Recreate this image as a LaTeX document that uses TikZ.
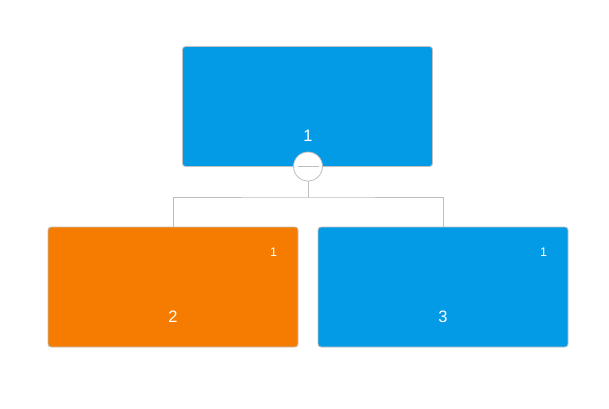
\documentclass[tikz,border=0pt]{standalone}
\usepackage{fontspec}
\setmainfont{Liberation Sans}
\usetikzlibrary{calc}
\definecolor{boxblue}{HTML}{039BE5}
\definecolor{boxorange}{HTML}{F57C00}
\definecolor{edgegray}{HTML}{C0C0C0}
\definecolor{linegray}{HTML}{BDBDBD}
\begin{document}
\begin{tikzpicture}[x=1pt,y=-1pt,
  card/.style={draw=edgegray,line width=0.8pt,rounded corners=3pt,minimum width=250pt,minimum height=120pt,inner sep=0pt},
  lbl/.style={text=white,font=\fontsize{16.5}{18}\selectfont,inner sep=0pt},
  cnt/.style={text=white,font=\fontsize{12.5}{14}\selectfont,inner sep=0pt},
  conn/.style={draw=linegray,line width=0.9pt}]
\useasboundingbox (0,0) rectangle (609,408);
\node[card,fill=boxblue] (n1) at (307.5,106.5) {};
\node[card,fill=boxorange] (n2) at (173,287) {};
\node[card,fill=boxblue] (n3) at (443,287) {};
\node[lbl] (t1) at (308,136) {1};
\node[lbl] (t2) at (173,316.5) {2};
\node[lbl] (t3) at (443,316.5) {3};
\node[cnt] (c2) at (273.5,252.5) {1};
\node[cnt] (c3) at (543.5,252.5) {1};
\node[circle,draw=linegray,fill=white,line width=0.8pt,minimum size=29pt,inner sep=0pt] (tog) at (308,166.5) {};
\draw[conn] ($(tog.center)+(-10.5,0)$) -- ($(tog.center)+(10.5,0)$);
\coordinate (j) at (308,197);
\draw[conn] (tog.south) -- (j);
\draw[conn] (n2.north) |- (j) -| (n3.north);
\end{tikzpicture}
\end{document}
